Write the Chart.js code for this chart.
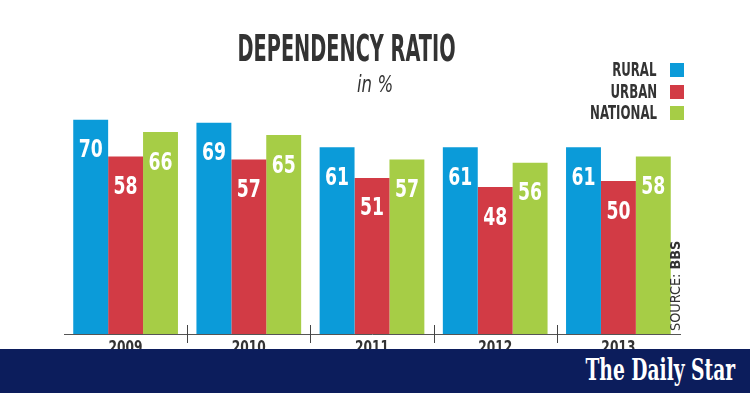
<!DOCTYPE html>
<html>
<head>
<meta charset="utf-8">
<script src="https://cdn.jsdelivr.net/npm/chart.js@4"></script>
<style>
  html, body { margin: 0; padding: 0; background: #fff; }
  #wrap { position: relative; width: 750px; height: 393px; overflow: hidden; }
  #chart { position: absolute; left: 0; top: 0; }
  .cond { font-family: "DejaVu Sans", sans-serif; white-space: nowrap; position: absolute; }
  #title { top: 26px; font-size: 38px; font-weight: bold; color: #333; }
  #subtitle { top: 71px; font-size: 23px; font-style: italic; color: #333; }
  .lg { font-size: 19px; font-weight: bold; color: #333; }
  .box { position: absolute; width: 14px; height: 14px; }
  #source { font-size: 14px; color: #333; transform-origin: 0 0; }
  #footer { position: absolute; left: 0; top: 349px; width: 750px; height: 44px; background: #0c1d5c; }
  #brand { position: absolute; top: 352px; color: #fff; font-family: "DejaVu Serif", serif;
    font-weight: bold; font-size: 30px; white-space: nowrap; }
</style>
</head>
<body>
<div id="wrap">
  <canvas id="chart" width="750" height="393"></canvas>
  <div id="title" class="cond">DEPENDENCY RATIO</div>
  <div id="subtitle" class="cond">in %</div>
  <div id="source" class="cond">SOURCE: <b>BBS</b></div>
  <div id="footer"></div>
  <div id="brand">The Daily Star</div>
</div>
<script>
// Chart data
const years = ["2009", "2010", "2011", "2012", "2013"];
const rural = [70, 69, 61, 61, 61];
const urban = [58, 57, 51, 48, 50];
const national = [66, 65, 57, 56, 58];

const seriesNames = ["RURAL", "URBAN", "NATIONAL"];
const seriesColors = ["#0b9bd9", "#d23b45", "#a6cd46"];

const wrap = document.getElementById("wrap");

// squeeze a text element to a target width (fake condensed font)
function fit(el, width, anchorX, align) {
  const w = el.offsetWidth;
  const s = width / w;
  let left = anchorX;
  if (align === "center") left = anchorX - w / 2;
  if (align === "right") left = anchorX - w;
  el.style.left = left + "px";
  el.style.transformOrigin = align === "center" ? "50% 50%" : align === "right" ? "100% 50%" : "0 50%";
  el.style.transform = "scaleX(" + s + ")";
  return s;
}

fit(document.getElementById("title"), 218, 346, "center");
fit(document.getElementById("subtitle"), 36, 375, "center");
fit(document.getElementById("brand"), 150, 660, "center");

// Legend (HTML)
let legendScale = null;
seriesNames.forEach(function (name, i) {
  const t = document.createElement("div");
  t.className = "cond lg";
  t.textContent = name;
  t.style.top = (58 + i * 21.5) + "px";
  wrap.appendChild(t);
  if (legendScale === null) {
    // measure NATIONAL for scale
    const probe = document.createElement("div");
    probe.className = "cond lg";
    probe.textContent = seriesNames[2];
    wrap.appendChild(probe);
    legendScale = 67 / probe.offsetWidth;
    wrap.removeChild(probe);
  }
  const w = t.offsetWidth;
  t.style.left = (657 - w) + "px";
  t.style.transformOrigin = "100% 50%";
  t.style.transform = "scaleX(" + legendScale + ")";
  const b = document.createElement("div");
  b.className = "box";
  b.style.left = "670px";
  b.style.top = (63 + i * 21.5) + "px";
  b.style.background = seriesColors[i];
  wrap.appendChild(b);
});

// Source note, rotated
const src = document.getElementById("source");
const srcW = src.offsetWidth;
src.style.left = "667px";
src.style.top = "331px";
src.style.transform = "rotate(-90deg) scaleX(" + (90 / srcW) + ")";

const fontFam = '"DejaVu Sans", sans-serif';

function squeezedText(ctx, text, x, y, s) {
  ctx.save();
  ctx.translate(x, y);
  ctx.scale(s, 1);
  ctx.fillText(text, 0, 0);
  ctx.restore();
}

// Value labels inside the bars
const barLabels = {
  id: "barLabels",
  afterDatasetsDraw(chart) {
    const ctx = chart.ctx;
    ctx.save();
    ctx.fillStyle = "#fff";
    ctx.font = "bold 25px " + fontFam;
    ctx.textAlign = "center";
    ctx.textBaseline = "middle";
    chart.data.datasets.forEach(function (ds, di) {
      chart.getDatasetMeta(di).data.forEach(function (bar, i) {
        squeezedText(ctx, String(ds.data[i]), bar.x, bar.y + 31, 0.69);
      });
    });
    ctx.restore();
  },
};

// Year labels and small tick marks between the year groups
const groupTicks = {
  id: "groupTicks",
  afterDraw(chart) {
    const ctx = chart.ctx;
    const x = chart.scales.x;
    const base = chart.chartArea.bottom;
    ctx.save();
    ctx.strokeStyle = "#444";
    ctx.lineWidth = 1;
    for (let i = 0; i < years.length - 1; i++) {
      const px = Math.round((x.getPixelForValue(i) + x.getPixelForValue(i + 1)) / 2) + 0.5;
      ctx.beginPath();
      ctx.moveTo(px, base - 9);
      ctx.lineTo(px, base + 9);
      ctx.stroke();
    }
    ctx.fillStyle = "#333";
    ctx.font = "bold 18px " + fontFam;
    ctx.textAlign = "center";
    ctx.textBaseline = "middle";
    years.forEach(function (y, i) {
      squeezedText(ctx, y, x.getPixelForValue(i), base + 14, 0.68);
    });
    ctx.restore();
  },
};

const ctx = document.getElementById("chart").getContext("2d");
new Chart(ctx, {
  type: "bar",
  data: {
    labels: years,
    datasets: [
      { label: seriesNames[0], data: rural, backgroundColor: seriesColors[0] },
      { label: seriesNames[1], data: urban, backgroundColor: seriesColors[1] },
      { label: seriesNames[2], data: national, backgroundColor: seriesColors[2] },
    ],
  },
  options: {
    responsive: false,
    animation: false,
    layout: { padding: { left: 64, right: 70, top: 28, bottom: 51 } },
    datasets: { bar: { categoryPercentage: 0.85, barPercentage: 1.0, borderWidth: 0 } },
    plugins: { legend: { display: false }, tooltip: { enabled: false } },
    scales: {
      x: {
        grid: { display: false },
        border: { display: true, color: "#555", width: 1 },
        ticks: { display: false },
      },
      y: { display: false, min: 0, max: 100 },
    },
  },
  plugins: [barLabels, groupTicks],
});
</script>
</body>
</html>
